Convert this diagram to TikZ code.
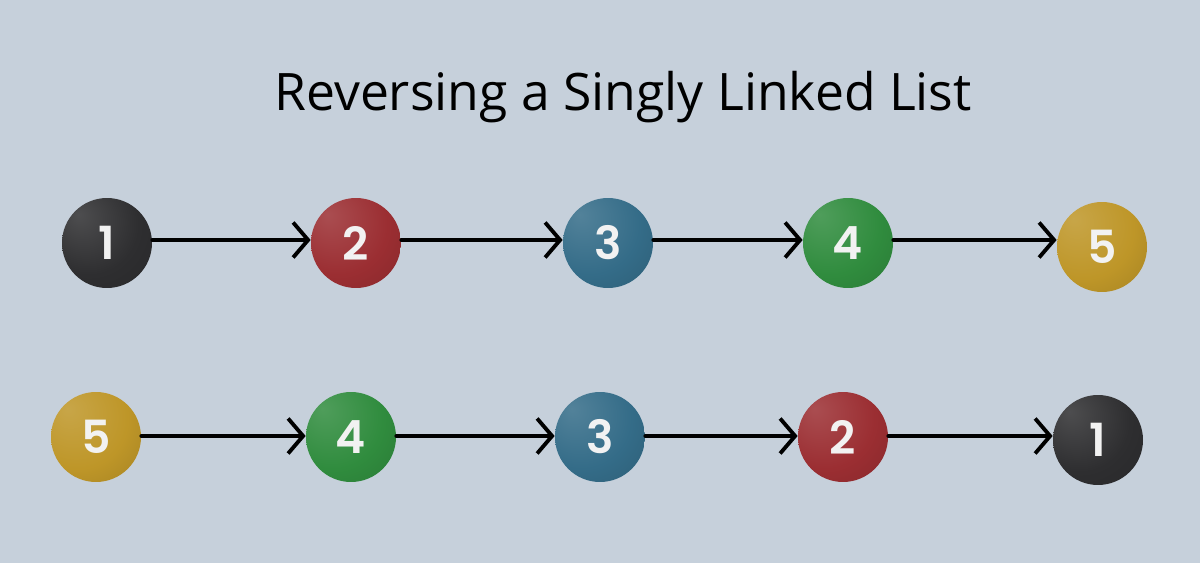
\documentclass[tikz,border=0pt]{standalone}
\usepackage{fontspec}
\setmainfont{Open Sans}
\newfontfamily\digitfont{Poppins}[UprightFont=* SemiBold]
\usetikzlibrary{arrows.meta}
\definecolor{bgc}{RGB}{198,208,219}
\definecolor{cblack}{RGB}{46,46,48}
\definecolor{cred}{RGB}{155,46,50}
\definecolor{cblue}{RGB}{52,108,136}
\definecolor{cgreen}{RGB}{48,140,62}
\definecolor{cgold}{RGB}{190,150,40}
\colorlet{ballc}{cblack}
\pgfdeclareradialshading[ballc]{myball}{\pgfpoint{-16bp}{16bp}}{%
  color(0bp)=(ballc!85!white);
  color(28bp)=(ballc);
  color(60bp)=(ballc!78!black);
  color(80bp)=(ballc!65!black)}
\tikzset{
  ball/.style={circle, minimum size=1.8cm, inner sep=0pt, shading=myball,
    /utils/exec={\colorlet{ballc}{#1}},
    font=\digitfont\fontsize{26}{26}\selectfont, text=white!90!gray},
  link/.style={line width=2.2pt, line cap=round,
    -{Straight Barb[length=0.3cm, width=0.7cm, line width=2.2pt]}},
}
\begin{document}
\begin{tikzpicture}[x=0.02cm, y=-0.02cm]
\fill[bgc] (0,0) rectangle (1200,563);
\useasboundingbox (0,0) rectangle (1200,563);
\node[anchor=base, font=\fontsize{29.4}{30}\selectfont] (title) at (623,111) {Reversing a Singly Linked List};
% row 1
\node[ball=cblack] (a1) at (107,243) {1};
\node[ball=cred]   (a2) at (356,243) {2};
\node[ball=cblue]  (a3) at (608,243) {3};
\node[ball=cgreen] (a4) at (848,243) {4};
\node[ball=cgold]  (a5) at (1102,247) {5};
% row 2
\node[ball=cgold]  (b5) at (96,437) {5};
\node[ball=cgreen] (b4) at (351,437) {4};
\node[ball=cblue]  (b3) at (600,437) {3};
\node[ball=cred]   (b2) at (843,437) {2};
\node[ball=cblack] (b1) at (1098,440) {1};
% arrows
\coordinate (r1) at (0,240);
\coordinate (r2) at (0,436);
\draw[link] (a1.east |- r1) -- (a2.west |- r1);
\draw[link] (a2.east |- r1) -- (a3.west |- r1);
\draw[link] (a3.east |- r1) -- (a4.west |- r1);
\draw[link] (a4.east |- r1) -- (a5.west |- r1);
\draw[link] (b5.east |- r2) -- (b4.west |- r2);
\draw[link] (b4.east |- r2) -- (b3.west |- r2);
\draw[link] (b3.east |- r2) -- (b2.west |- r2);
\draw[link] (b2.east |- r2) -- (b1.west |- r2);
\end{tikzpicture}
\end{document}
